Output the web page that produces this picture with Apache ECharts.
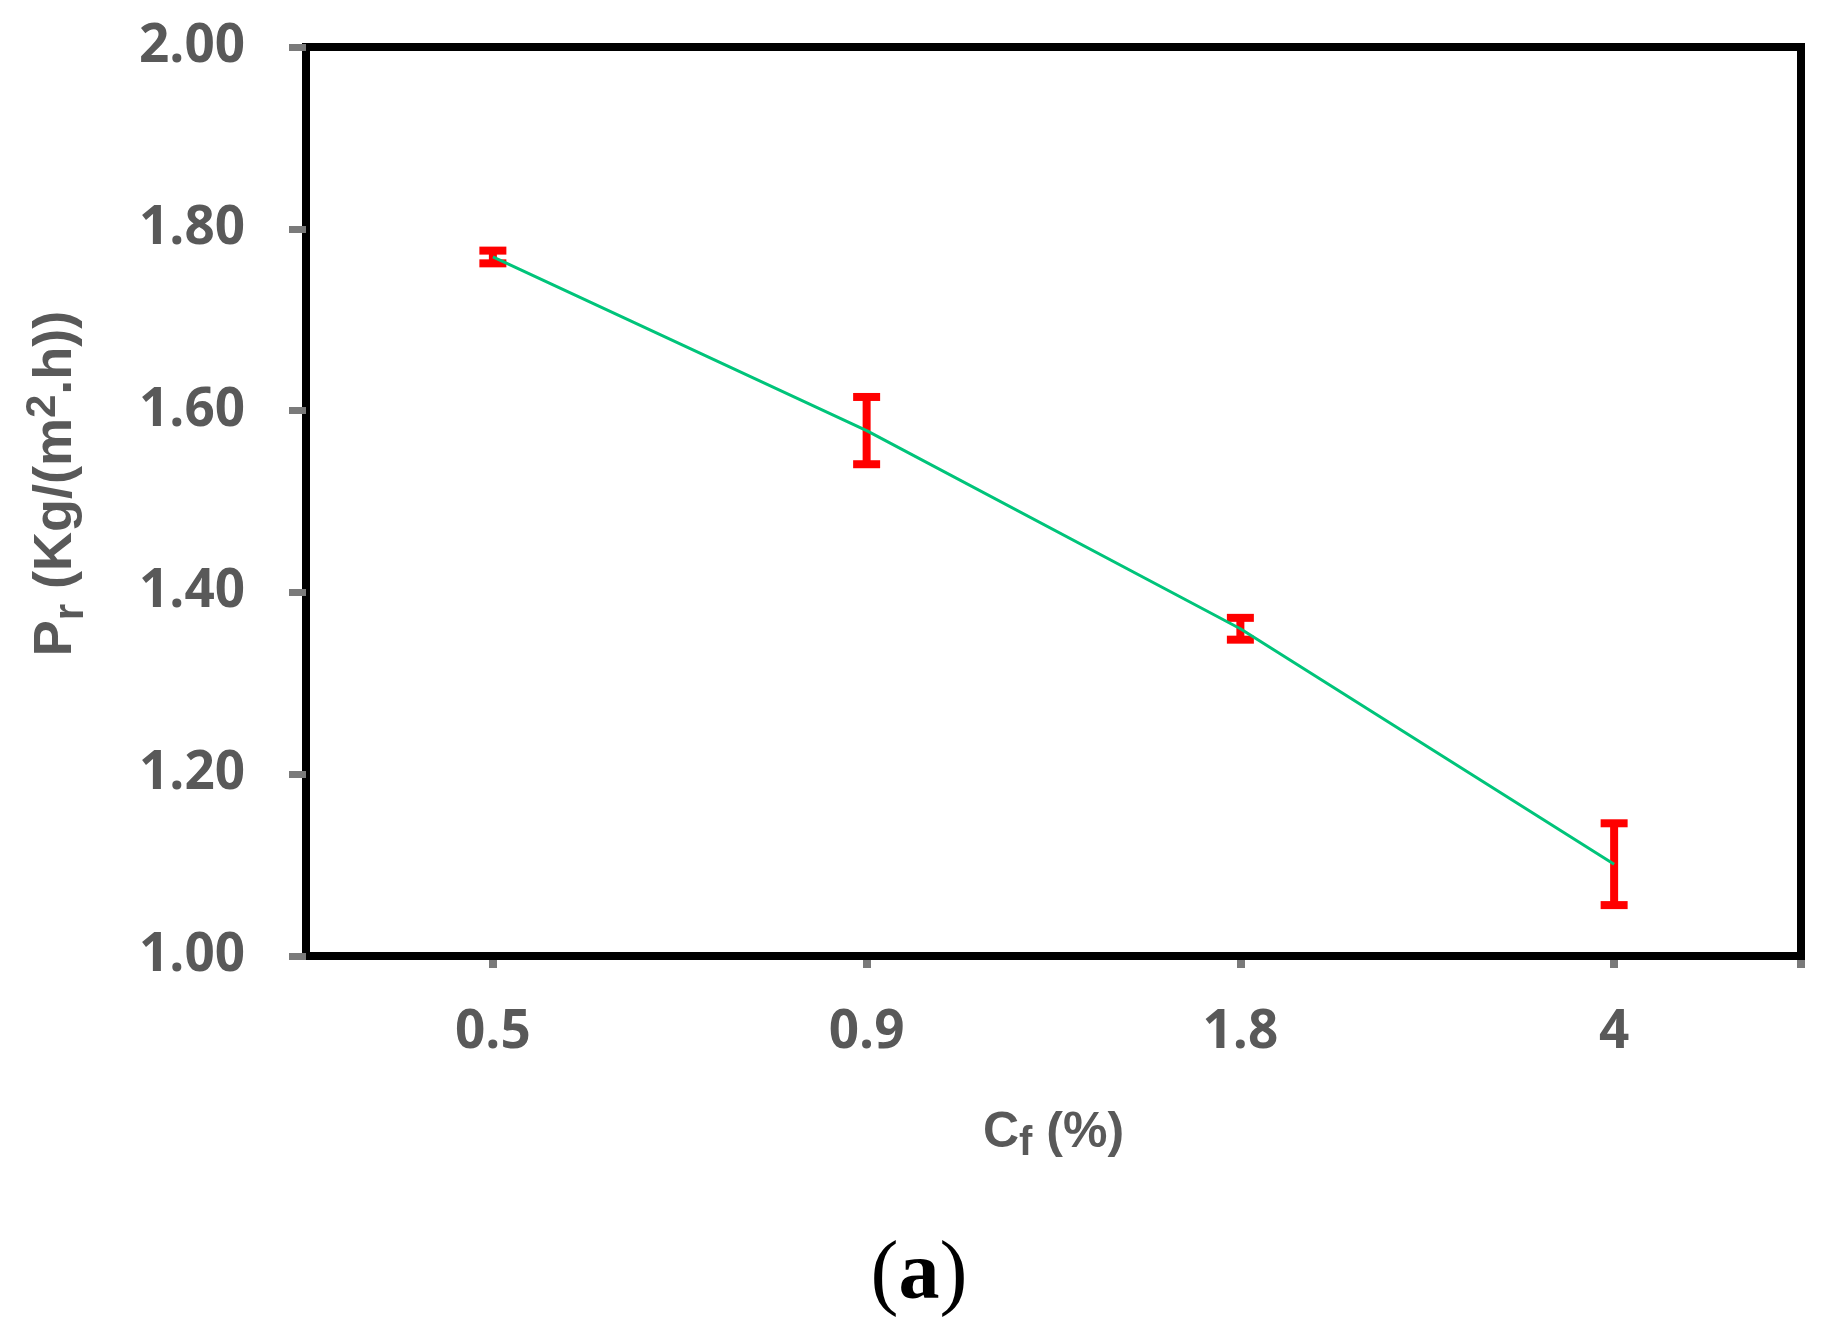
<!DOCTYPE html>
<html>
<head>
<meta charset="utf-8">
<script src="https://cdn.jsdelivr.net/npm/echarts@6/dist/echarts.min.js"></script>
<style>
html,body{margin:0;padding:0;background:#fff;}
#chart{width:1838px;height:1339px;}
</style>
</head>
<body>
<div id="chart"></div>
<script>
// ---- data ----
const categories = ['0.5', '0.9', '1.8', '4'];
const prValues = [1.769, 1.578, 1.360, 1.101];
const prErrors = [0.007, 0.037, 0.012, 0.045];
const yTickMin = 1.0, yTickMax = 2.0, yTickStep = 0.2;
const xTitle = '{b|C}{sub|f}{b| (%)}';
const yTitle = '{b|P}{sub|r}{b| (Kg/(m}{sup|2}{b|.h))}';
const panelLabel = '{p|(}{a|a}{p|)}';

const errorRows = categories.map((c, i) => [i, prValues[i] - prErrors[i], prValues[i] + prErrors[i]]);

const textGray = '#595959';
const tickGray = '#7a7a7a';
const font = 'Liberation Sans';
const tickFont = 'Open Sans';

const chart = echarts.init(document.getElementById('chart'), null, {renderer: 'canvas'});
chart.setOption({
  animation: false,
  backgroundColor: '#fff',
  title: {
    text: panelLabel,
    left: 'center',
    top: 1230,
    textStyle: {
      rich: {
        p: {fontFamily: 'Liberation Serif', fontSize: 84, color: '#000', fontWeight: 'normal'},
        a: {fontFamily: 'Liberation Serif', fontSize: 82, color: '#000', fontWeight: 'bold'}
      }
    }
  },
  grid: {
    left: 306, right: 37, top: 47, bottom: 383,
    show: true, borderColor: '#000', borderWidth: 8, backgroundColor: 'transparent'
  },
  xAxis: [{
    type: 'category',
    data: categories,
    boundaryGap: true,
    position: 'bottom',
    offset: 4,
    axisLine: {show: false},
    axisTick: {show: true, alignWithLabel: true, length: 8, lineStyle: {color: tickGray, width: 8}},
    axisLabel: {margin: 46, color: textGray, fontFamily: tickFont, fontWeight: 'bold', fontSize: 53},
    splitLine: {show: false},
    name: xTitle,
    nameLocation: 'middle',
    nameGap: 142,
    nameTextStyle: {
      rich: {
        b: {fontFamily: font, fontWeight: 'bold', fontSize: 50, color: textGray},
        sub: {fontFamily: font, fontWeight: 'bold', fontSize: 40, color: textGray, padding: [22, 0, 0, 0]}
      }
    }
  }, {
    type: 'value',
    min: 0, max: 1,
    position: 'bottom',
    offset: 4,
    axisLine: {show: false},
    axisLabel: {show: false},
    splitLine: {show: false},
    axisTick: {show: true, customValues: [1], length: 8, lineStyle: {color: tickGray, width: 8}}
  }],
  yAxis: {
    type: 'value',
    min: yTickMin, max: yTickMax, interval: yTickStep,
    offset: 4,
    axisLine: {show: false},
    axisTick: {show: true, length: 17, lineStyle: {color: tickGray, width: 7}},
    axisLabel: {
      margin: 57, color: textGray, fontFamily: tickFont, fontWeight: 'bold', fontSize: 53,
      formatter: v => v.toFixed(2)
    },
    splitLine: {show: false},
    name: yTitle,
    nameLocation: 'middle',
    nameGap: 210,
    nameTextStyle: {
      padding: [0, 0, 0, 36],
      rich: {
        b: {fontFamily: font, fontWeight: 'bold', fontSize: 54, color: textGray},
        sub: {fontFamily: font, fontWeight: 'bold', fontSize: 42, color: textGray, padding: [30, 0, 0, 0]},
        sup: {fontFamily: font, fontWeight: 'bold', fontSize: 42, color: textGray, padding: [0, 0, 26, 0]}
      }
    }
  },
  series: [{
    type: 'line',
    name: 'Pr',
    data: prValues,
    xAxisIndex: 0, yAxisIndex: 0,
    symbol: 'none',
    lineStyle: {color: '#00c47a', width: 3},
    z: 3
  }, {
    type: 'custom',
    name: 'error',
    xAxisIndex: 0, yAxisIndex: 0,
    data: errorRows,
    encode: {x: 0, y: [1, 2]},
    z: 2,
    renderItem: function (params, api) {
      const xi = api.value(0);
      const lo = api.coord([xi, api.value(1)]);
      const hi = api.coord([xi, api.value(2)]);
      const half = 13.5;
      const st = {stroke: '#ff0000', lineWidth: 8};
      return {
        type: 'group',
        children: [
          {type: 'line', shape: {x1: lo[0], y1: lo[1], x2: hi[0], y2: hi[1]}, style: st},
          {type: 'line', shape: {x1: hi[0] - half, y1: hi[1], x2: hi[0] + half, y2: hi[1]}, style: st},
          {type: 'line', shape: {x1: lo[0] - half, y1: lo[1], x2: lo[0] + half, y2: lo[1]}, style: st}
        ]
      };
    }
  }]
});
</script>
</body>
</html>
